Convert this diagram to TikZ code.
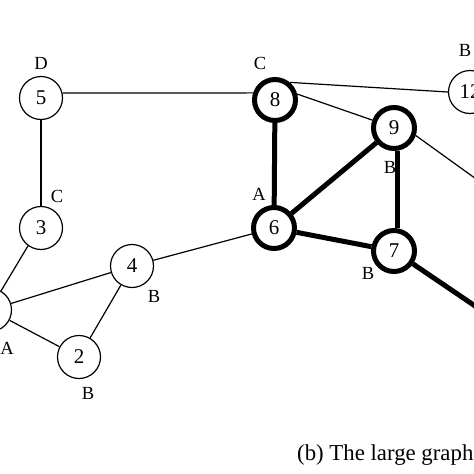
\documentclass[tikz,border=0pt]{standalone}
\usepackage{fontspec}
\setmainfont{Liberation Serif}
\usetikzlibrary{positioning}

\begin{document}
\begin{tikzpicture}[
  x=1pt, y=-1pt,
  vertex/.style={draw, circle, minimum size=43pt, inner sep=0pt, line width=1.2pt, font=\fontsize{21}{21}\selectfont},
  hvertex/.style={vertex, minimum size=41pt, line width=5pt},
  tag/.style={font=\fontsize{18.5}{18.5}\selectfont, inner sep=0pt},
  edge/.style={line width=1.2pt},
  hedge/.style={line width=5pt}
]
\clip (0,0) rectangle (474,474);
\fill[white] (0,0) rectangle (474,474);

% --- Vertices ---
\node[vertex] (n1) at (-10,310) {1};
\node[vertex] (n2) at (79,357) {2};
\node[vertex] (n3) at (41,228) {3};
\node[vertex] (n4) at (132,266) {4};
\node[vertex] (n5) at (41,98) {5};
\node[hvertex] (n6) at (274,228) {6};
\node[hvertex] (n7) at (394,251) {7};
\node[hvertex] (n8) at (275,100) {8};
\node[hvertex] (n9) at (394,128) {9};
\node[vertex] (n12) at (470,92) {12};

% --- Off-picture ends ---
\coordinate (out9) at (540,225);
\coordinate (out7) at (540,350);

% --- Labels ---
\node[tag] (t1) at (7,348) {A};
\node[tag] (t2) at (88,393) {B};
\node[tag] (t3) at (57,196) {C};
\node[tag] (t4) at (154,296) {B};
\node[tag] (t5) at (41,63) {D};
\node[tag] (t6) at (259,194) {A};
\node[tag] (t7) at (368,273) {B};
\node[tag] (t8) at (260,63) {C};
\node[tag] (t9) at (390,167) {B};
\node[tag] (t12) at (465,50) {B};

% --- Thin edges ---
\draw[edge] (n5.13) -- (n8.162);
\draw[edge] (n5) -- (n3);
\draw[edge] (n3.234) -- (n1.60);
\draw[edge] (n1) -- (n4);
\draw[edge] (n1) -- (n2);
\draw[edge] (n2) -- (n4);
\draw[edge] (n4) -- (n6);
\draw[edge] (n8.50) -- (n12.west);
\draw[edge] (n8.15) -- (n9.160);
\draw[edge] (n9.-19) -- (out9);

% --- Thick edges ---
\draw[hedge] (n8) -- (n6);
\draw[hedge] (n6) -- (n9);
\draw[hedge] (n6) -- (n7);
\draw[hedge] (n9.-80) -- (n7.80);
\draw[hedge] (n7) -- (out7);

% --- Caption ---
\node[font=\fontsize{22.8}{22.8}\selectfont, anchor=base west, inner sep=0pt] (cap) at (297,460) {(b) The large graph};
\end{tikzpicture}
\end{document}
